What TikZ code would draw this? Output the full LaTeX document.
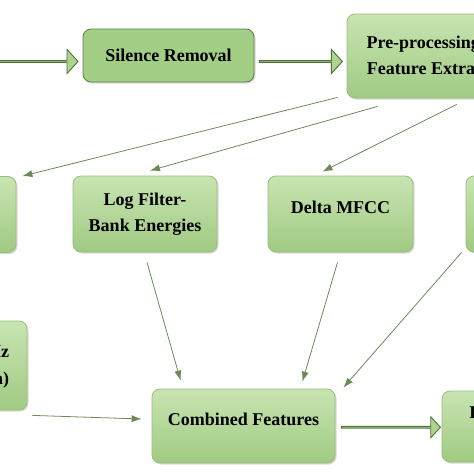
\documentclass[tikz,border=0pt]{standalone}
\usepackage{fontspec}
\setmainfont{Liberation Serif}
\usetikzlibrary{positioning,calc,shapes.arrows,shadows,arrows.meta}
\definecolor{boxtop}{RGB}{200,228,178}
\definecolor{boxbot}{RGB}{160,202,130}
\definecolor{boxedge}{RGB}{150,190,122}
\definecolor{flatfill}{RGB}{163,206,133}
\definecolor{flatedge}{RGB}{88,128,66}
\definecolor{linkgreen}{RGB}{108,138,88}
\definecolor{arrowedge}{RGB}{80,115,58}
\definecolor{arrowfill}{RGB}{172,212,142}
\tikzset{block/.style={draw=boxedge,line width=0.8pt,rounded corners=8pt,top color=boxtop,bottom color=boxbot,
           drop shadow={opacity=0.3,shadow xshift=1.5pt,shadow yshift=-1.5pt},align=center,inner sep=0pt,
           font=\fontsize{18}{26.5}\selectfont\bfseries},
         flatblock/.style={block,draw=flatedge,top color=flatfill,bottom color=flatfill},
         link/.style={-{Latex[length=10pt,width=7pt]},draw=linkgreen,line width=0.8pt},
         bigarrow/.style={single arrow,draw=arrowedge,fill=arrowfill,line width=0.9pt,inner sep=0pt,
           single arrow head extend=5.5pt,minimum width=24pt,single arrow tip angle=95}
}

\begin{document}
\begin{tikzpicture}[x=1pt,y=1pt,yscale=-1,xscale=1]
\useasboundingbox (0,0) rectangle (474,474);
\clip (0,0) rectangle (474,474);

%Box: first row
\node[flatblock,minimum width=171pt,minimum height=53pt] (sil) at (168.5,55.5) {Silence Removal};
\node[block,minimum width=186pt,minimum height=84pt] (pre) at (440,56)
  {\raisebox{5pt}{\begin{tabular}{@{}c@{}}Pre-processing and\\Feature Extraction\end{tabular}}};

%Box: second row
\node[block,minimum width=144pt,minimum height=76pt] (leftfeat) at (-56,214.5) {};
\node[block,minimum width=144pt,minimum height=76pt] (logf) at (145,214) {Log Filter-\\Bank Energies};
\node[block,minimum width=145pt,minimum height=76pt] (delta) at (340.5,214) {\raisebox{14pt}{Delta MFCC}};
\node[block,minimum width=144pt,minimum height=76pt] (rightfeat) at (538,214) {};

%Box: third row
\node[block,minimum width=160pt,minimum height=89pt,text width=124pt,align=right] (prosody) at (-53,365.5)
  {\raisebox{14pt}{\begin{tabular}{@{}r@{}}Hz\\(Data)\end{tabular}}};
\node[block,minimum width=183pt,minimum height=74pt] (comb) at (243.5,426) {\raisebox{14pt}{Combined Features}};
\node[block,minimum width=180pt,minimum height=71pt,text width=126pt,align=left] (next) at (532,426.5) {\raisebox{27pt}{I}};

%Block arrows
\node[bigarrow,minimum height=88pt] (in) at ($(sil.west)+(-49,6)$) {};
\node[bigarrow,minimum height=83pt] (toPre) at ($(sil.east)!0.5!(pre.west)+(0,5.75)$) {};
\node[bigarrow,minimum height=99pt,minimum width=21pt,single arrow head extend=5pt] (toNext) at ($(comb.east)!0.5!(next.west)+(2,1)$) {};

%Straight Lines
\draw[link] ($(pre.south west)+(-9,-1)$) -- ($(leftfeat.north east)+(6,0)$);
\draw[link] ($(pre.south west)+(31,8)$) -- ($(logf.north)+(5,-5)$);
\draw[link] ($(pre.south west)+(110,6)$) -- ($(delta.north)+(-18,-4)$);
\draw[link] ($(logf.south)+(2,10)$) -- ($(comb.north west)+(29,-8)$);
\draw[link] ($(delta.south)+(-3,10)$) -- ($(comb.north east)+(-33,-7)$);
\draw[link] ($(rightfeat.south west)+(-4,0)$) -- ($(comb.north east)+(8,-1)$);
\draw[link] ($(prosody.south east)+(5,5)$) -- ($(comb.west)+(-10,-7)$);

\end{tikzpicture}
\end{document}
